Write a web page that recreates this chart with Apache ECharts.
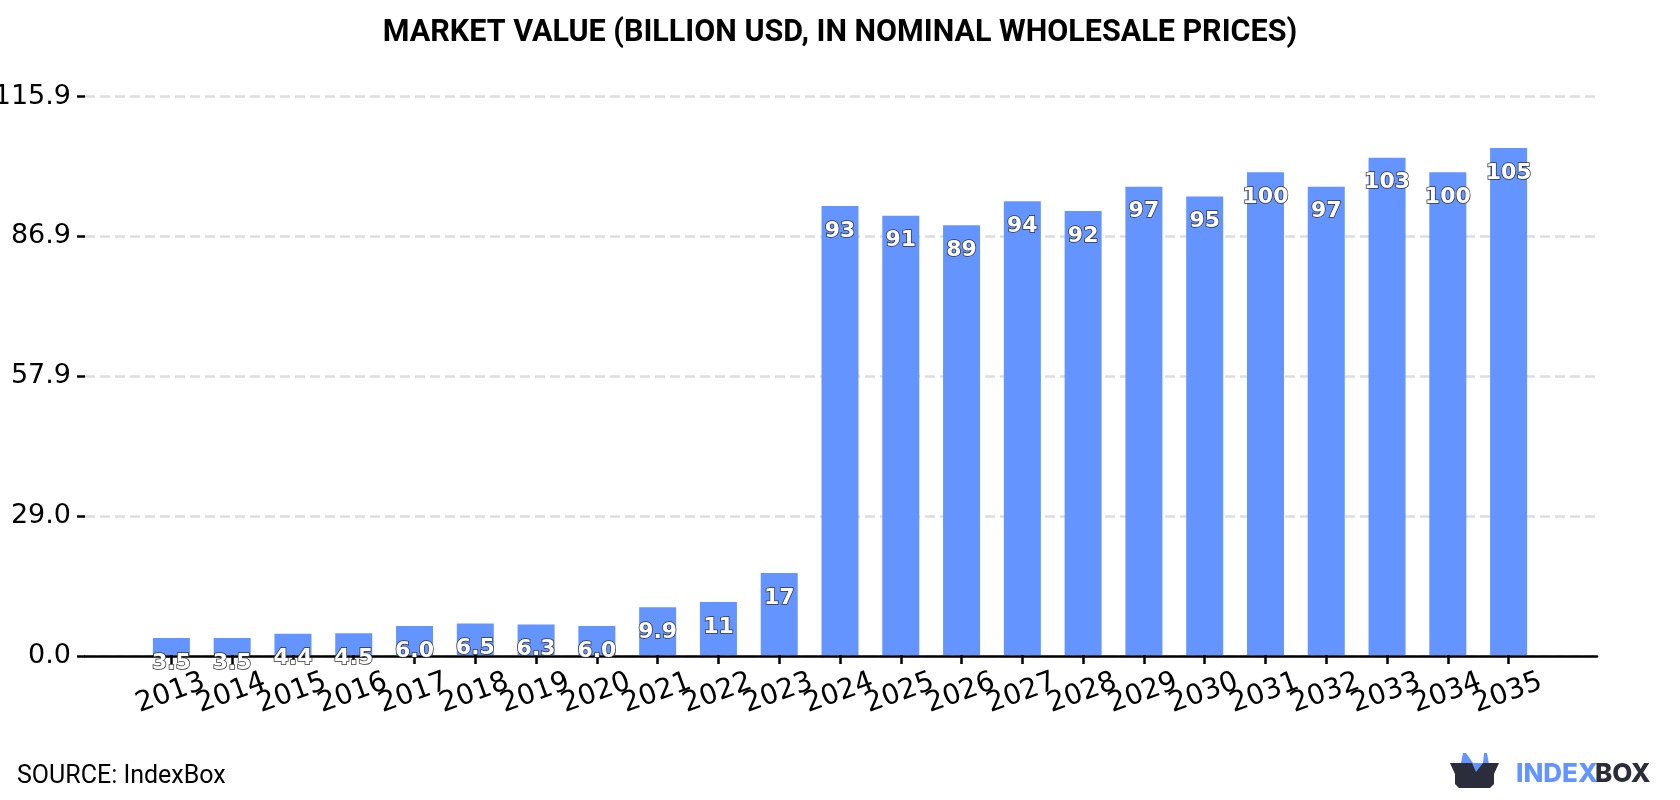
<!DOCTYPE html>
<html>
<head>
<meta charset="utf-8">
<title>Market value</title>
<style>html,body{margin:0;padding:0;background:#fff}#chart{width:1680px;height:800px}</style>
<script src="https://cdn.jsdelivr.net/npm/echarts@6/dist/echarts.min.js"></script>
</head>
<body>
<div id="chart"></div>
<script>
// Market value per year, billion USD
const years = ['2013','2014','2015','2016','2017','2018','2019','2020','2021','2022','2023','2024','2025','2026','2027','2028','2029','2030','2031','2032','2033','2034','2035'];
const marketValue = [3.5,3.5,4.4,4.5,6.0,6.5,6.3,6.0,9.9,11,17,93,91,89,94,92,97,95,100,97,103,100,105];
const valueLabels = ['3.5','3.5','4.4','4.5','6.0','6.5','6.3','6.0','9.9','11','17','93','91','89','94','92','97','95','100','97','103','100','105'];
const yTickLabels = ['0.0','29.0','57.9','86.9','115.9'];
const yMax = 115.9;
const yStep = 28.975;

const BLUE = '#6394ff';
const DARK = '#2b2d3b';
const chart = echarts.init(document.getElementById('chart'), null, {renderer: 'canvas'});

chart.setOption({
  animation: false,
  backgroundColor: '#fff',
  title: {
    text: 'MARKET VALUE (BILLION USD, IN NOMINAL WHOLESALE PRICES)',
    left: 835, top: 13, textAlign: 'center',
    textStyle: {fontFamily: 'Roboto', fontWeight: 'bold', fontSize: 30.5, color: '#000'}
  },
  // Wide grid carries the value axis, gridlines and baseline; narrow grid carries the bars,
  // which end on the upper edge of the baseline
  grid: [
    {left: 85, top: 96.5, width: 1512, height: 559.5, outerBoundsMode: 'none'},
    {left: 141, top: 95.5, width: 1398, height: 559.5, outerBoundsMode: 'none'}
  ],
  xAxis: [
    {
      type: 'value', gridIndex: 0, min: 0, max: 1, z: 3,
      axisLine: {show: true, onZero: false, lineStyle: {color: '#000', width: 2.5}},
      axisTick: {show: false}, axisLabel: {show: false}, splitLine: {show: false}
    },
    {
      type: 'category', gridIndex: 1, data: years, z: 3,
      axisLine: {show: false},
      axisTick: {show: true, alignWithLabel: true, length: 9, lineStyle: {color: '#000', width: 2.5}},
      axisLabel: {
        interval: 0, rotate: 20, align: 'center', verticalAlign: 'middle', margin: 38,
        padding: [0, 2, 0, 0],
        fontFamily: 'DejaVu Sans', fontSize: 28, color: '#000'
      }
    }
  ],
  yAxis: [
    {
      type: 'value', gridIndex: 0, min: 0, max: yMax, interval: yStep,
      axisLine: {show: false},
      axisTick: {show: true, length: 8, lineStyle: {color: '#000', width: 2.5}},
      axisLabel: {
        margin: 14, padding: [6, 0, 0, 0], fontFamily: 'DejaVu Sans', fontSize: 27, color: '#000',
        formatter: (v) => yTickLabels[Math.round(v / yStep)]
      },
      splitLine: {show: true, lineStyle: {color: '#dddddd', width: 2.5, type: [10, 5]}}
    },
    {
      type: 'value', gridIndex: 1, min: 0, max: yMax, interval: yStep,
      axisLine: {show: false}, axisTick: {show: false}, axisLabel: {show: false}, splitLine: {show: false}
    }
  ],
  series: [{
    type: 'bar',
    xAxisIndex: 1, yAxisIndex: 1,
    data: marketValue,
    barWidth: 37,
    itemStyle: {color: BLUE},
    z: 4,
    label: {
      show: true, position: 'insideTop', distance: 14,
      formatter: (p) => valueLabels[p.dataIndex],
      fontFamily: 'DejaVu Sans', fontWeight: 'bold', fontSize: 22, color: '#fff',
      textBorderColor: '#333', textBorderWidth: 1.5
    }
  }],
  graphic: [
    {
      type: 'text', left: 17, top: 764,
      style: {text: 'SOURCE: IndexBox', fontFamily: 'Roboto', fontSize: 25, fill: '#000'}
    },
    // IndexBox wordmark and box icon
    {
      type: 'polygon',
      shape: {points: [[1461,763],[1463,753],[1466,753],[1473,763],[1483,763],[1484,753],[1487,753],[1490,770],[1470,775]]},
      style: {fill: BLUE}
    },
    {
      type: 'polygon',
      shape: {points: [[1450,763],[1472,763],[1476,772],[1483,763],[1499,763],[1494,774],[1494,784],[1490,788],[1459,788],[1455,784],[1455,774]]},
      style: {fill: DARK}
    },
    {
      type: 'text', left: 1516, top: 761,
      style: {text: 'INDEX', fontFamily: 'Inter', fontWeight: 800, fontSize: 26, fill: BLUE}
    },
    {
      type: 'text', left: 1595, top: 761,
      style: {text: 'BOX', fontFamily: 'Inter', fontWeight: 800, fontSize: 26, fill: DARK}
    }
  ]
});
</script>
</body>
</html>
